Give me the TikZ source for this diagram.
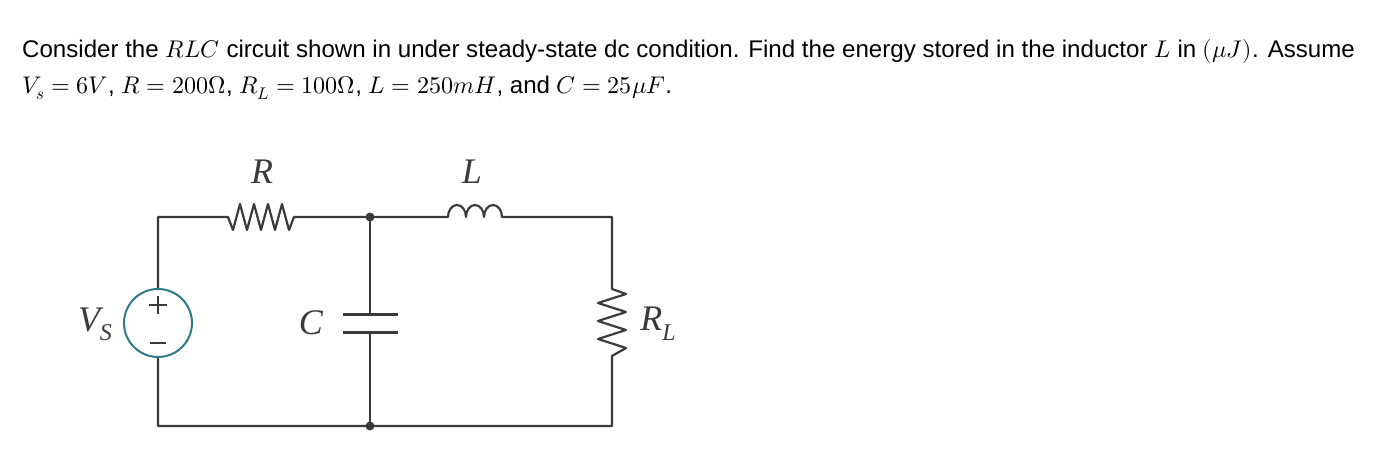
\documentclass[tikz,border=0pt]{standalone}
\usepackage{fontspec}
\setmainfont{Liberation Sans}
\newfontfamily\cirf{Liberation Serif}
\usepackage{unicode-math}
\setmathfont{Latin Modern Math}
\definecolor{wire}{HTML}{3A3A3A}
\definecolor{teal}{HTML}{2F7A8A}
\begin{document}
\begin{tikzpicture}[x=1pt,y=-1pt,
  w/.style={draw=wire,line width=2.2pt,line join=round},
  lab/.style={font=\cirf\itshape\fontsize{36}{36}\selectfont,text=wire,inner sep=0},
  txt/.style={anchor=west,inner sep=0,font=\fontsize{24.1}{28}\selectfont}]
\useasboundingbox (0,0) rectangle (1378,449);
\node[txt] (t1) at (22,51) {Consider the $RLC$ circuit shown in under steady-state dc condition. Find the energy stored in the inductor $L$ in $(\mu J)$. Assume};
\node[txt] (t2) at (22,88) {$V_s=6V$, $R=200\Omega$, $R_L=100\Omega$, $L=250mH$, and $C=25\mu F$.};
\coordinate (tl) at (158,217); \coordinate (bl) at (158,426);
\coordinate (tj) at (370,217); \coordinate (bj) at (370,426);
\coordinate (tr) at (612,217); \coordinate (br) at (612,426);
\node[circle,draw=teal,line width=2pt,minimum size=68pt,inner sep=0] (vs) at (158,323) {};
\draw[w] (158,296) -- (158,314); \draw[w] (149,305) -- (167,305);
\draw[w] (150,343) -- (166,343);
\draw[w] (vs.north) -- (tl) -- (228,217) -- (233,230) -- (240,204) -- (247,230) -- (254,204) -- (261,230) -- (268,204) -- (275,230) -- (282,204) -- (289,230) -- (294,217) -- (tj) -- (448,217)
  arc[start angle=180,end angle=360,x radius=9,y radius=12]
  arc[start angle=180,end angle=360,x radius=9,y radius=12]
  arc[start angle=180,end angle=360,x radius=9,y radius=12] -- (tr) -- (612,289) -- (626,294) -- (598,303) -- (626,312) -- (598,321) -- (626,330) -- (598,339) -- (626,348) -- (612,356) -- (br) -- (bl) -- (vs.south);
\draw[w] (tj) -- (370,314); \draw[w] (370,332) -- (bj);
\draw[w,line width=3pt] (343,314) -- (398,314); \draw[w,line width=3pt] (343,332) -- (398,332);
\fill[wire] (tj) circle (4.5); \fill[wire] (bj) circle (4.5);
\node[lab] (lr) at (262,172) {R};
\node[lab] (ll) at (472,172) {L};
\node[lab] (lc) at (311,323) {C};
\node[lab] (lv) at (95,324) {V\raisebox{-9pt}{\fontsize{24}{24}\selectfont S}};
\node[lab] (lrl) at (658,324) {R\raisebox{-10pt}{\fontsize{24}{24}\selectfont L}};
\end{tikzpicture}
\end{document}
